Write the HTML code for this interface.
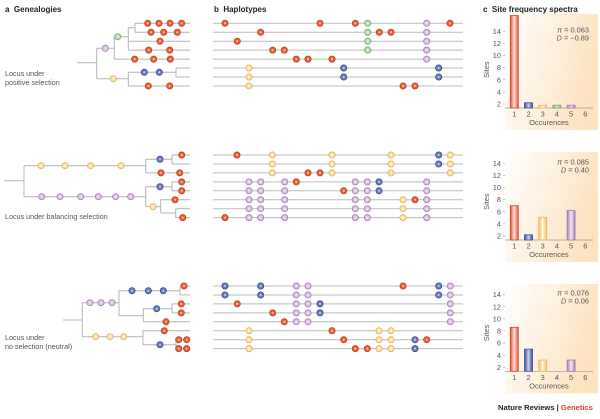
<!DOCTYPE html>
<html><head><meta charset="utf-8">
<style>
body{margin:0;background:#fff;}
svg{display:block;font-family:"Liberation Sans",sans-serif;}
.t{font-size:7.2px;fill:#555;}
.h{font-size:8px;font-weight:bold;fill:#222;}
.tk{font-size:7.4px;fill:#555;}
</style></head>
<body>
<svg id="fig" width="600" height="419" viewBox="0 0 600 419">
<defs>
<linearGradient id="bg" x1="0" y1="0" x2="1" y2="0.3">
<stop offset="0" stop-color="#ffffff"/><stop offset="1" stop-color="#fde3c0"/></linearGradient>
<linearGradient id="gr" x1="0" x2="1"><stop offset="0" stop-color="#e8503a"/><stop offset="0.5" stop-color="#fde0d8"/><stop offset="1" stop-color="#e8503a"/></linearGradient>
<linearGradient id="gb" x1="0" x2="1"><stop offset="0" stop-color="#3c4c90"/><stop offset="0.5" stop-color="#c8d0f0"/><stop offset="1" stop-color="#3c4c90"/></linearGradient>
<linearGradient id="gy" x1="0" x2="1"><stop offset="0" stop-color="#f0c060"/><stop offset="0.5" stop-color="#fff8e0"/><stop offset="1" stop-color="#f0c060"/></linearGradient>
<linearGradient id="gg" x1="0" x2="1"><stop offset="0" stop-color="#80b080"/><stop offset="0.5" stop-color="#e8f4e0"/><stop offset="1" stop-color="#80b080"/></linearGradient>
<linearGradient id="gp" x1="0" x2="1"><stop offset="0" stop-color="#a878b8"/><stop offset="0.5" stop-color="#f4e8f4"/><stop offset="1" stop-color="#a878b8"/></linearGradient>
</defs>
<g id="trees"></g><g id="haps"></g><g id="charts"></g>
<text class="h" x="5" y="12">a&#160;&#160;Genealogies</text>
<text class="h" x="214" y="12">b&#160;&#160;Haplotypes</text>
<text class="h" x="483" y="12">c&#160;&#160;Site frequency spectra</text>
<text class="t" x="5" y="76">Locus under</text>
<text class="t" x="5" y="85">positive selection</text>
<text class="t" x="5" y="219">Locus under balancing selection</text>
<text class="t" x="5" y="340">Locus under</text>
<text class="t" x="5" y="349">no selection (neutral)</text>
<text x="498" y="410" style="font-size:7.6px;font-weight:bold;fill:#222">Nature Reviews | <tspan fill="#e0402a">Genetics</tspan></text>
</svg>
<script>
const NS="http://www.w3.org/2000/svg";
function mk(t,a,p){const e=document.createElementNS(NS,t);for(const k in a)e.setAttribute(k,a[k]);p.appendChild(e);return e;}
const COL={r:["#e8603c","#c4401e","#f8c8b0"],y:["#fbe2a4","#dfb060","#fff4d8"],g:["#b8dcb0","#74a46c","#e8f4e0"],p:["#dcc2e2","#a47cb0","#f4e8f4"],b:["#6a7cbc","#3c4c8c","#c8d0f0"]};
function dot(g,x,y,c){const k=COL[c];
const d=mk('circle',{cx:x,cy:y,r:3.1,fill:k[0],stroke:k[1],'stroke-width':0.8},g);


mk('circle',{cx:x,cy:y,r:1,fill:k[2]},g);}
function ln(g,x1,y1,x2,y2){mk('line',{x1,y1,x2,y2,stroke:'#b4b4b4','stroke-width':1},g);}
const hapTop=[[[225,'r'],[320,'r'],[355.3,'r'],[367.7,'g'],[426.7,'p'],[450,'r']],[[260.7,'r'],[367.7,'g'],[379.3,'r'],[391,'r'],[426.7,'p']],[[237.3,'r'],[367.7,'g'],[426.7,'p']],[[272.7,'r'],[284.3,'r'],[367.7,'g'],[426.7,'p']],[[296.3,'r'],[308,'r'],[332,'r'],[426.7,'p']],[[249,'y'],[343.7,'b'],[438.7,'b']],[[249,'y'],[343.7,'b'],[438.7,'b']],[[249,'y'],[403,'r'],[415,'r']]];
const hapMid=[[[237,'r'],[272.3,'y'],[332,'y'],[391,'y'],[438.7,'b'],[450.3,'y']],[[272.3,'y'],[332,'y'],[391,'y'],[438.7,'b'],[450.3,'y']],[[272.3,'y'],[308,'r'],[320,'r'],[332,'y'],[391,'y'],[450.3,'y']],[[249,'p'],[260.7,'p'],[284.7,'p'],[296.3,'r'],[355.3,'p'],[367.3,'p'],[379,'b'],[426.7,'p']],[[249,'p'],[260.7,'p'],[284.7,'p'],[343.7,'r'],[355.3,'p'],[367.3,'p'],[379,'b'],[426.7,'p']],[[249,'p'],[260.7,'p'],[284.7,'p'],[355.3,'p'],[367.3,'p'],[403,'y'],[415,'r'],[426.7,'p']],[[249,'p'],[260.7,'p'],[284.7,'p'],[355.3,'p'],[367.3,'p'],[403,'y'],[426.7,'p']],[[225,'r'],[249,'p'],[260.7,'p'],[284.7,'p'],[355.3,'p'],[367.3,'p'],[403,'y'],[426.7,'p']]];
const hapBot=[[[225,'b'],[260.7,'b'],[296.3,'p'],[308,'p'],[403,'r'],[438.7,'b'],[450.3,'p']],[[225,'b'],[260.7,'b'],[296.3,'p'],[308,'p'],[438.7,'b'],[450.3,'p']],[[237.3,'r'],[296.3,'p'],[308,'p'],[320,'b'],[450.3,'p']],[[272.7,'r'],[296.3,'p'],[308,'p'],[320,'b'],[450.3,'p']],[[284.3,'r'],[296.3,'p'],[308,'p'],[450.3,'p']],[[249,'y'],[332,'r'],[379,'y'],[391,'y']],[[249,'y'],[343.7,'r'],[379,'y'],[391,'y'],[415,'b'],[426.7,'r']],[[249,'y'],[355.3,'r'],[367.3,'r'],[379,'y'],[391,'y'],[415,'b']]];
const hapY0=[23.3,155,286];
const HG=document.getElementById('haps');
[hapTop,hapMid,hapBot].forEach((H,k)=>{H.forEach((row,i)=>{const y=hapY0[k]+i*8.95;
const l=mk('line',{x1:213,y1:y,x2:463,y2:y,stroke:'#bcbcbc','stroke-width':1},HG);


row.forEach(d=>dot(HG,d[0],y,d[1]));});});
const TG=document.getElementById('trees');
const R=(k,i)=>hapY0[k]+i*8.95;
let Y=i=>R(0,i);
[[77,62.7,96.7,62.7],[96.7,48.3,96.7,78.7],[96.7,48.3,114.3,48.3],[114.3,36.7,114.3,Y(4)],[114.3,Y(4),190,Y(4)],[114.3,36.7,128.3,36.7],[128.3,27.7,128.3,Y(3)],[128.3,27.7,135,27.7],[135,Y(0),135,Y(1)],[135,Y(0),190,Y(0)],[135,Y(1),190,Y(1)],[128.3,Y(2),190,Y(2)],[128.3,Y(3),190,Y(3)],[96.7,78.7,128.3,78.7],[128.3,72.3,128.3,Y(7)],[128.3,72.3,176,72.3],[176,Y(5),176,Y(6)],[176,Y(5),190,Y(5)],[176,Y(6),190,Y(6)],[128.3,Y(7),190,Y(7)]].forEach(s=>ln(TG,...s));
[[105.3,48.3,'p'],[117.7,36.7,'g'],[113.3,78.7,'y'],[147.7,Y(0),'r'],[159,Y(0),'r'],[170,Y(0),'r'],[181.7,Y(0),'r'],[151,Y(1),'r'],[163.7,Y(1),'r'],[177.3,Y(1),'r'],[160,Y(2),'r'],[148.7,Y(3),'r'],[169.7,Y(3),'r'],[134.7,Y(4),'r'],[153.7,Y(4),'r'],[170.3,Y(4),'r'],[144.3,72.3,'b'],[159.3,72.3,'b'],[148.3,Y(7),'r'],[169.7,Y(7),'r']].forEach(d=>dot(TG,...d));
Y=i=>R(1,i);
[[4,180.7,24,180.7],[24,165.7,24,196.7],[24,165.7,145.7,165.7],[24,196.7,145.7,196.7],[145.7,159.3,145.7,Y(2)],[145.7,159.3,172,159.3],[172,Y(0),172,Y(1)],[172,Y(0),190,Y(0)],[172,Y(1),190,Y(1)],[145.7,Y(2),190,Y(2)],[145.7,186.7,145.7,206.7],[145.7,186.7,172,186.7],[172,Y(3),172,Y(4)],[172,Y(3),190,Y(3)],[172,Y(4),190,Y(4)],[145.7,206.7,160.7,206.7],[160.7,Y(5),160.7,213],[160.7,Y(5),190,Y(5)],[160.7,213,175.7,213],[175.7,Y(6),175.7,Y(7)],[175.7,Y(6),190,Y(6)],[175.7,Y(7),190,Y(7)]].forEach(s=>ln(TG,...s));
[[41,165.7,'y'],[65,165.7,'y'],[90.7,165.7,'y'],[121,165.7,'y'],[41.7,196.7,'p'],[60,196.7,'p'],[80.7,196.7,'p'],[98.3,196.7,'p'],[115.7,196.7,'p'],[130.7,196.7,'p'],[160,159.3,'b'],[181.7,Y(0),'r'],[161,Y(2),'r'],[179.7,Y(2),'r'],[160,186.7,'b'],[181.7,Y(3),'r'],[181.7,Y(4),'r'],[153,206.7,'y'],[175,Y(5),'r'],[182.7,Y(7),'r']].forEach(d=>dot(TG,...d));
Y=i=>R(2,i);
[[63,320,82.3,320],[82.3,302.7,82.3,336.7],[82.3,302.7,119,302.7],[119,290.7,119,315.7],[119,290.7,180,290.7],[180,Y(0),180,Y(1)],[180,Y(0),190,Y(0)],[180,Y(1),190,Y(1)],[119,315.7,143.3,315.7],[143.3,308.7,143.3,Y(4)],[143.3,308.7,172,308.7],[172,Y(2),172,Y(3)],[172,Y(2),190,Y(2)],[172,Y(3),190,Y(3)],[143.3,Y(4),190,Y(4)],[82.3,336.7,143,336.7],[143,Y(5),143,344.7],[143,Y(5),190,Y(5)],[143,344.7,176,344.7],[176,Y(6),176,Y(7)],[176,Y(6),190,Y(6)],[176,Y(7),190,Y(7)]].forEach(s=>ln(TG,...s));
[[90,302.7,'p'],[101,302.7,'p'],[112,302.7,'p'],[132,290.7,'b'],[148.3,290.7,'b'],[163.3,290.7,'b'],[184,Y(0),'r'],[156.7,308.7,'b'],[181.3,Y(2),'r'],[181.3,Y(3),'r'],[166,Y(4),'r'],[95.7,336.7,'y'],[110,336.7,'y'],[123.7,336.7,'y'],[164.3,Y(5),'r'],[160,344.7,'b'],[178.7,Y(6),'r'],[186.7,Y(6),'r'],[178.7,Y(7),'r'],[186.7,Y(7),'r']].forEach(d=>dot(TG,...d));

const occurrences=[1,2,3,4,5,6];
const sitesTop=[16.6,2.2,1.8,1.8,1.8,0];
const sitesMid=[7,2.2,5.1,0,6.2,0];
const sitesBot=[8.6,5,3.2,0,3.2,0];
const yTicks=[2,4,6,8,10,12,14];
const piVals=["0.063","0.085","0.076"];
const dVals=["\u22120.89","0.40","0.06"];
const barFill=['url(#gr)','url(#gb)','url(#gy)','url(#gg)','url(#gp)','url(#gr)'];
const barStroke=['#d8482a','#3c4c90','#e8b858','#7aa870','#a47cb0','#d8482a'];
const CG=document.getElementById('charts');
const y2s=[104,236,367.3];
const bgTop=[14,152,284];
[sitesTop,sitesMid,sitesBot].forEach((S,k)=>{
 const g=mk('g',{},CG);
 
 
 const yS=v=>y2s[k]-(v-2)*6.06;
 const base=y2s[k]+4;
 const xS=o=>514.3+(o-1)*14.2;
 const bg=mk('rect',{x:505,y:bgTop[k],width:93,height:base-bgTop[k]+22,fill:'url(#bg)'},g);
 
 
 mk('line',{x1:505,y1:base,x2:593,y2:base,stroke:'#999','stroke-width':0.7},g);
 yTicks.forEach(t=>{const tx=mk('text',{x:501,y:yS(t)+2.6,'text-anchor':'end',class:'tk'},g);tx.textContent=t;
  
  
  mk('line',{x1:503,y1:yS(t),x2:505,y2:yS(t),stroke:'#999','stroke-width':0.6},g);});
 occurrences.forEach((o,i)=>{
  const tx=mk('text',{x:xS(o),y:base+8.5,'text-anchor':'middle',class:'tk'},g);tx.textContent=o;
  
  
  if(S[i]>0){const b=mk('rect',{x:xS(o)-4,y:yS(S[i]),width:8,height:base-yS(S[i]),fill:barFill[i],stroke:barStroke[i],'stroke-width':0.8},g);
  
  }
 });
 const xl=mk('text',{x:549,y:base+17,'text-anchor':'middle',class:'tk'},g);xl.textContent='Occurences';
 
 
 const yc=(yS(14)+base)/2;
 const yl=mk('text',{x:489,y:yc,'text-anchor':'middle',class:'tk',transform:'rotate(-90 489 '+yc+')'},g);yl.textContent='Sites';
 
 
 const p=mk('text',{x:589,y:yS(14)+1,'text-anchor':'end',class:'tk'},g);p.innerHTML='<tspan font-style="italic">\u03c0</tspan> = '+piVals[k];
 
 
 const d=mk('text',{x:589,y:yS(14)+9,'text-anchor':'end',class:'tk'},g);d.innerHTML='<tspan font-style="italic">D</tspan> = '+dVals[k];
 
 
});
</script>
</body></html>
